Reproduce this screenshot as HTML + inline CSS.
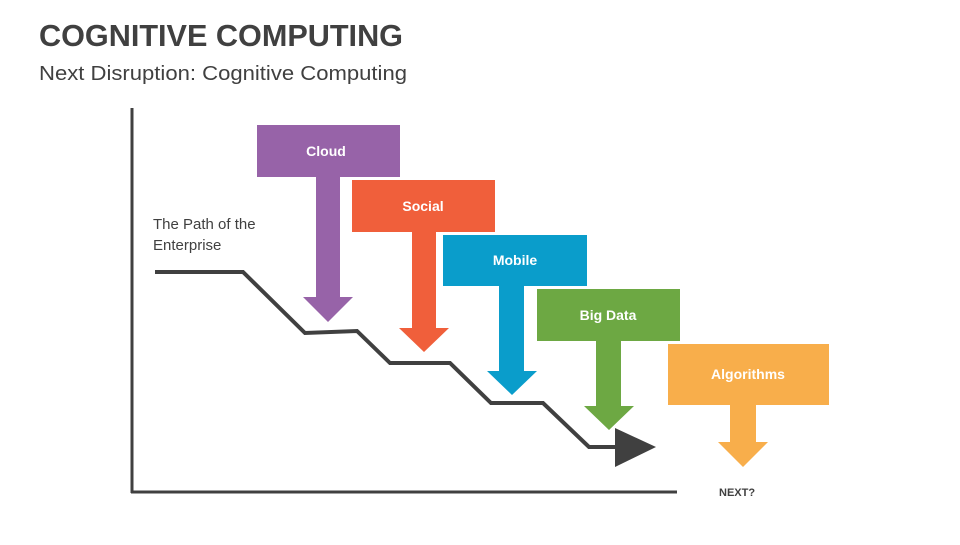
<!DOCTYPE html>
<html><head><style>
body{margin:0;width:960px;height:540px;background:#fff;overflow:hidden;font-family:"Liberation Sans",sans-serif;}
</style></head><body>
<svg width="960" height="540" xmlns="http://www.w3.org/2000/svg" font-family="Liberation Sans, sans-serif">
<text x="39" y="46" font-size="31" font-weight="bold" fill="#404040" textLength="364" lengthAdjust="spacingAndGlyphs">COGNITIVE COMPUTING</text>
<text x="39" y="80" font-size="20" fill="#404040" textLength="368" lengthAdjust="spacingAndGlyphs">Next Disruption: Cognitive Computing</text>
<line x1="132" y1="108" x2="132" y2="493" stroke="#404040" stroke-width="3"/>
<line x1="131" y1="492" x2="677" y2="492" stroke="#404040" stroke-width="3"/>
<text x="153" y="229" font-size="15" fill="#404040">The Path of the</text>
<text x="153" y="250" font-size="15" fill="#404040">Enterprise</text>
<polyline points="155,272 243,272 305,333 357,331 390,363 450,363 491,403 543,403 589,447 618,447" fill="none" stroke="#404040" stroke-width="4"/>
<polygon points="615,428 656,447 615,467" fill="#404040"/>
<g font-size="14" font-weight="bold" fill="#fff" text-anchor="middle">
<rect x="257" y="125" width="143" height="52" fill="#9763A8"/>
<polygon points="316,177 340,177 340,297 353,297 328,322 303,297 316,297" fill="#9763A8"/>
<text x="326" y="156">Cloud</text>
<rect x="352" y="180" width="143" height="52" fill="#F05F3B"/>
<polygon points="412,232 436,232 436,328 449,328 424,352 399,328 412,328" fill="#F05F3B"/>
<text x="423" y="211">Social</text>
<rect x="443" y="235" width="144" height="51" fill="#0A9DCB"/>
<polygon points="499,286 524,286 524,371 537,371 512,395 487,371 499,371" fill="#0A9DCB"/>
<text x="515" y="265">Mobile</text>
<rect x="537" y="289" width="143" height="52" fill="#6DA843"/>
<polygon points="596,341 621,341 621,406 634,406 609,430 584,406 596,406" fill="#6DA843"/>
<text x="608" y="320">Big Data</text>
<rect x="668" y="344" width="161" height="61" fill="#F8AE4B"/>
<polygon points="730,405 756,405 756,442 768,442 743,467 718,442 730,442" fill="#F8AE4B"/>
<text x="748" y="379">Algorithms</text>
</g>
<text x="719" y="496" font-size="11" font-weight="bold" fill="#404040">NEXT?</text>
</svg>
</body></html>
